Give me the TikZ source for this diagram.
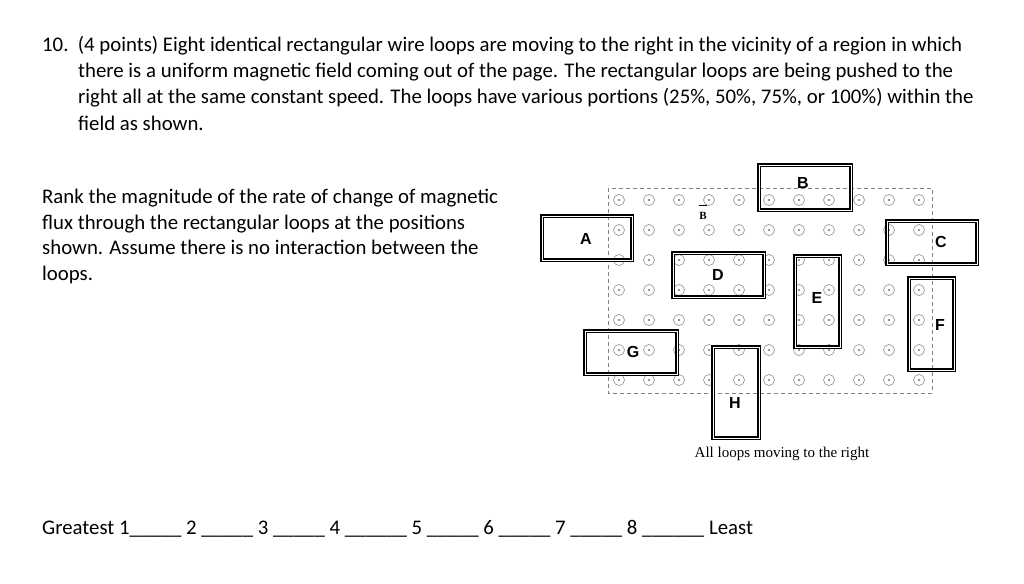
\documentclass[tikz,border=0pt]{standalone}
\usepackage{fontspec}
\setmainfont{Carlito}
\newfontfamily\serifb{Liberation Serif}
\newfontfamily\sansb{Liberation Sans}
\begin{document}
\begin{tikzpicture}[x=1pt,y=-1pt,
  txt/.style={anchor=base west,inner sep=0pt,font=\fontsize{20.8}{24}\selectfont},
  loop/.style={draw=black,line width=1.9pt,double=white,double distance=0.7pt},
  lab/.style={font=\sansb\bfseries\fontsize{16}{16}\selectfont,inner sep=0pt}]
\useasboundingbox (0,0) rectangle (1024,583);
\node[txt] (t1) at (42,52) {10.\ \ (4 points) Eight identical rectangular wire loops are moving to the right in the vicinity of a region in which};
\node[txt] (t2) at (78,78) {there is a uniform magnetic field coming out of the page. The rectangular loops are being pushed to the};
\node[txt] (t3) at (78,104) {right all at the same constant speed. The loops have various portions (25\%, 50\%, 75\%, or 100\%) within the};
\node[txt] (t4) at (78,130) {field as shown.};
\node[txt] (p1) at (42,203) {Rank the magnitude of the rate of change of magnetic};
\node[txt] (p2) at (42,229) {flux through the rectangular loops at the positions};
\node[txt] (p3) at (42,254) {shown. Assume there is no interaction between the};
\node[txt] (p4) at (42,280) {loops.};
\node[txt] (rank) at (42,534) {Greatest 1\_\_\_\_\_ 2 \_\_\_\_\_ 3 \_\_\_\_\_ 4 \_\_\_\_\_\_ 5 \_\_\_\_\_ 6 \_\_\_\_\_ 7 \_\_\_\_\_ 8 \_\_\_\_\_\_ Least};
% field region
\draw[gray,dash pattern=on 4pt off 3pt,line width=0.7pt] (608,188) rectangle (932,393);
\foreach \i in {0,...,10}{\foreach \j in {0,...,6}{
  \draw[gray!80,line width=0.7pt] (619+30*\i,200+30*\j) circle (5.5);
  \fill[gray!90!black] (619+30*\i,200+30*\j) circle (1.2);}}
\node[font=\serifb\bfseries\fontsize{11}{11}\selectfont,inner sep=0pt] (bf) at (703,216) {B};
\draw[line width=0.5pt] (699,205) -- (707,205);
% loops
\draw[loop] (542,216) rectangle (632,260);
\draw[loop] (759,165) rectangle (851,210);
\draw[loop] (887,221) rectangle (977,264);
\draw[loop] (673,253) rectangle (764,297);
\draw[loop] (795,256) rectangle (840,347);
\draw[loop] (909,278) rectangle (954,370);
\draw[loop] (585,331) rectangle (677,374);
\draw[loop] (713,347) rectangle (759,438);
\node[lab] (A) at (586,239) {A};
\node[lab] (B) at (803,183) {B};
\node[lab] (C) at (941,242) {C};
\node[lab] (D) at (718,275) {D};
\node[lab] (E) at (817,298) {E};
\node[lab] (F) at (940,325) {F};
\node[lab] (G) at (633,352) {G};
\node[lab] (H) at (735,403) {H};
\node[font=\serifb\fontsize{15}{15}\selectfont,inner sep=0pt] (cap) at (782,454) {All loops moving to the right};
\end{tikzpicture}
\end{document}
